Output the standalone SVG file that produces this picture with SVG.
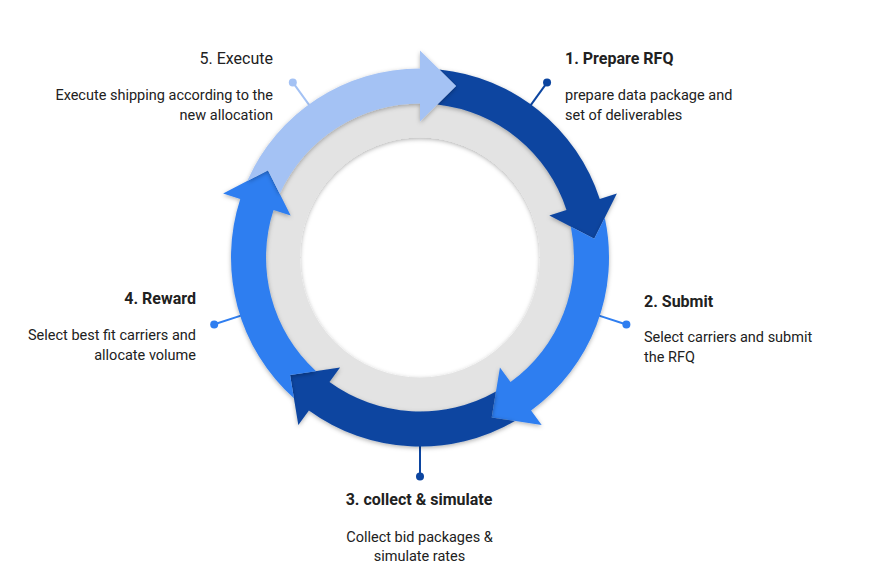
<svg xmlns="http://www.w3.org/2000/svg" width="877" height="581" viewBox="0 0 877 581">
<style>
  .t { font-family: Roboto, "Liberation Sans", Arial, sans-serif; fill: #212121; }
  .h { font-size: 16px; font-weight: bold; }
  .hr { font-size: 16px; font-weight: normal; }
  .b { font-size: 14.5px; }
  .dark { fill: #0c45a0; }
  .mid { fill: #2f7ef0; }
  .light { fill: #a4c2f4; }
  .arrow { filter: url(#shadow); }
  .lead { stroke-width: 2; fill: none; }
</style>
<defs>
  <filter id="shadow" x="-20%" y="-20%" width="140%" height="140%">
    <feDropShadow dx="0" dy="1.5" stdDeviation="2" flood-color="#000" flood-opacity="0.3"/>
  </filter>
</defs>
<rect width="877" height="581" fill="#ffffff"/>

<g id="ring">
  <circle cx="420" cy="257.5" r="138" fill="none" stroke="#e3e3e3" stroke-width="36" filter="url(#shadow)"/>
</g>

<g id="connectors">
  <line class="lead" x1="528.74" y1="107.83" x2="547.55" y2="81.94" stroke="#0c45a0"/>
  <circle cx="547.05" cy="82.6" r="4" fill="#0c45a0"/>
  <line class="lead" x1="595.95" y1="314.67" x2="626.38" y2="324.56" stroke="#2f7ef0"/>
  <circle cx="626.38" cy="324.56" r="4" fill="#2f7ef0"/>
  <line class="lead" x1="420" y1="442.5" x2="420" y2="476.5" stroke="#0c45a0"/>
  <circle cx="420" cy="476.5" r="4" fill="#0c45a0"/>
  <line class="lead" x1="244.05" y1="314.67" x2="213.62" y2="324.56" stroke="#2f7ef0"/>
  <circle cx="214.2" cy="324.4" r="4" fill="#2f7ef0"/>
  <line class="lead" x1="311.26" y1="107.83" x2="292.45" y2="81.94" stroke="#a4c2f4"/>
  <circle cx="292.8" cy="82.6" r="4" fill="#a4c2f4"/>
</g>

<g id="step1">
  <path class="arrow dark" d="M439.26,69.49 A189,189 0 0 1 599.75,199.10 L616.87,193.53 L594.23,238.74 L549.34,215.47 L566.46,209.91 A154,154 0 0 0 437.30,104.47 L456,86 Z"/>
  <text class="t h" x="565" y="64">1. Prepare RFQ</text>
  <text class="t b" x="565" y="100">prepare data package and</text>
  <text class="t b" x="565" y="120">set of deliverables</text>
</g>

<g id="step2">
  <path class="arrow mid" d="M604.77,217.72 A189,189 0 0 1 531.09,410.40 L541.67,424.97 L491.69,417.41 L499.94,367.53 L510.52,382.09 A154,154 0 0 0 570.88,226.66 L594.23,238.74 Z"/>
  <text class="t h" x="644" y="306.5">2. Submit</text>
  <text class="t b" x="644" y="342">Select carriers and submit</text>
  <text class="t b" x="644" y="362">the RFQ</text>
</g>

<g id="step3">
  <path class="arrow dark" d="M514.93,420.93 A189,189 0 0 1 308.91,410.40 L298.33,424.97 L290.07,375.09 L340.06,367.53 L329.48,382.09 A154,154 0 0 0 495.95,391.47 L491.69,417.41 Z"/>
  <text class="t h" x="419" y="505" text-anchor="middle">3. collect &amp; simulate</text>
  <text class="t b" x="419.5" y="541.5" text-anchor="middle">Collect bid packages &amp;</text>
  <text class="t b" x="419.5" y="561" text-anchor="middle">simulate rates</text>
</g>

<g id="step4">
  <path class="arrow mid" d="M293.92,398.30 A189,189 0 0 1 240.25,199.10 L223.13,193.53 L268.01,170.26 L290.66,215.47 L273.54,209.91 A154,154 0 0 0 316.07,371.14 L290.07,375.09 Z"/>
  <text class="t h" x="196" y="304" text-anchor="end">4. Reward</text>
  <text class="t b" x="196" y="340" text-anchor="end">Select best fit carriers and</text>
  <text class="t b" x="196" y="360" text-anchor="end">allocate volume</text>
</g>

<g id="step5">
  <path class="arrow light" d="M247.13,181.08 A189,189 0 0 1 420,68.5 L420,50.5 L456,86 L420,121.5 L420,103.5 A154,154 0 0 0 279.81,193.76 L268.01,170.26 Z"/>
  <text class="t hr" x="273" y="64" text-anchor="end">5. Execute</text>
  <text class="t b" x="273" y="100" text-anchor="end">Execute shipping according to the</text>
  <text class="t b" x="273" y="120" text-anchor="end">new allocation</text>
</g>
</svg>
